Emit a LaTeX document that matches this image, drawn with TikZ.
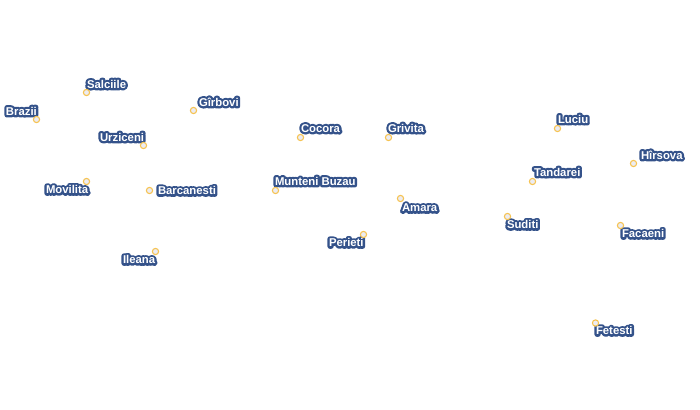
\documentclass[tikz,border=0pt]{standalone}
\usepackage{fontspec}
\setmainfont{Liberation Sans}
\newfontfamily\halofont[BoldFeatures={FakeBold=40}]{Liberation Sans}
\definecolor{halo}{HTML}{34528A}
\definecolor{ring}{HTML}{F6C350}
\definecolor{core}{HTML}{ECECF2}
\newcommand{\halotext}[1]{\pgfsetroundjoin\pgfsetroundcap\rlap{\color{halo}\halofont #1}{\color{white}#1}}
\tikzset{
  town/.style={circle,draw=ring,fill=core,line width=0.8pt,minimum size=4.7pt,inner sep=0pt},
  townlabel/.style={anchor=base west,inner sep=0pt,xshift=-0.2pt,yshift=0.6pt,font=\bfseries\fontsize{8.5pt}{10pt}\selectfont}
}
\begin{document}
\begin{tikzpicture}[x=0.75pt,y=-0.75pt]
\useasboundingbox (0,0) rectangle (700,410);
\node[townlabel] (t1) at (87,89) {\halotext{Salciile}};
\node[townlabel] (t2) at (6,116) {\halotext{Brazii}};
\node[townlabel] (t3) at (199,107) {\halotext{Gîrbovi}};
\node[townlabel] (t4) at (100,142) {\halotext{Urziceni}};
\node[townlabel] (t5) at (46,194.3) {\halotext{Movilita}};
\node[townlabel] (t6) at (158,195.3) {\halotext{Barcanesti}};
\node[townlabel] (t7) at (123,264.3) {\halotext{Ileana}};
\node[townlabel] (t8) at (301,133) {\halotext{Cocora}};
\node[townlabel] (t9) at (388,133) {\halotext{Grivita}};
\node[townlabel] (t10) at (275,186) {\halotext{Munteni Buzau}};
\node[townlabel] (t11) at (402,212.3) {\halotext{Amara}};
\node[townlabel] (t12) at (329,247.3) {\halotext{Perieti}};
\node[townlabel] (t13) at (558,124) {\halotext{Luciu}};
\node[townlabel] (t14) at (641,160) {\halotext{Hîrsova}};
\node[townlabel] (t15) at (534,177) {\halotext{Tandarei}};
\node[townlabel] (t16) at (507,229.3) {\halotext{Suditi}};
\node[townlabel] (t17) at (622,238.3) {\halotext{Facaeni}};
\node[townlabel] (t18) at (596,335.3) {\halotext{Fetesti}};
\node[town] (d1) at (86.5,92.5) {};
\node[town] (d2) at (36.5,119.5) {};
\node[town] (d3) at (193.5,110.5) {};
\node[town] (d4) at (143.5,145.5) {};
\node[town] (d5) at (86.5,181.5) {};
\node[town] (d6) at (149.5,190.5) {};
\node[town] (d7) at (155.5,251.5) {};
\node[town] (d8) at (300.5,137.5) {};
\node[town] (d9) at (388.5,137.5) {};
\node[town] (d10) at (275.5,190.5) {};
\node[town] (d11) at (400.5,198.5) {};
\node[town] (d12) at (363.5,234.5) {};
\node[town] (d13) at (557.5,128.5) {};
\node[town] (d14) at (633.5,163.5) {};
\node[town] (d15) at (532.5,181.5) {};
\node[town] (d16) at (507.5,216.5) {};
\node[town] (d17) at (620.5,225.5) {};
\node[town] (d18) at (595.5,323) {};
\end{tikzpicture}
\end{document}
